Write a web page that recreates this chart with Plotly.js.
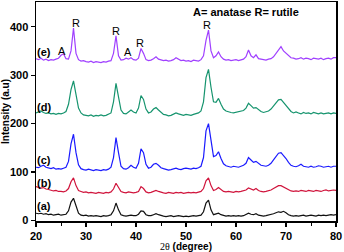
<!DOCTYPE html>
<html>
<head>
<meta charset="utf-8">
<script src="https://cdn.plot.ly/plotly-3.0.1.min.js"></script>
<style>html,body{margin:0;padding:0;background:#fff;}#chart{width:344px;height:252px;}</style>
</head>
<body>
<div id="chart"></div>
<script>
const twoTheta = [20,20.5,21,21.5,22,22.5,23,23.5,24,24.5,25,25.5,26,26.5,27,27.5,28,28.5,29,29.5,30,30.5,31,31.5,32,32.5,33,33.5,34,34.5,35,35.5,36,36.5,37,37.5,38,38.5,39,39.5,40,40.5,41,41.5,42,42.5,43,43.5,44,44.5,45,45.5,46,46.5,47,47.5,48,48.5,49,49.5,50,50.5,51,51.5,52,52.5,53,53.5,54,54.5,55,55.5,56,56.5,57,57.5,58,58.5,59,59.5,60,60.5,61,61.5,62,62.5,63,63.5,64,64.5,65,65.5,66,66.5,67,67.5,68,68.5,69,69.5,70,70.5,71,71.5,72,72.5,73,73.5,74,74.5,75,75.5,76,76.5,77,77.5,78,78.5,79,79.5,80];

const seriesE = [334,332,335,331,333,330,332,331,333,335,341,344,334,333,350,397,345,332,329,330,328,327,329,326,328,327,326,328,327,329,330,345,381,340,331,332,335,333,336,332,331,335,355,345,332,330,331,334,338,333,331,330,331,329,330,332,336,333,330,331,329,330,328,331,330,329,332,340,372,393,350,336,340,348,338,333,331,332,330,331,332,330,331,333,338,352,340,336,342,334,333,332,331,333,334,338,345,352,359,350,345,340,336,335,333,334,336,333,335,334,332,335,334,333,335,332,334,335,333,336,336];

const seriesD = [222,224,226,223,221,222,220,221,219,221,220,222,225,240,270,288,255,232,222,218,217,216,218,215,217,216,218,216,217,219,222,245,283,255,228,221,220,224,228,224,222,232,258,250,230,222,224,230,233,228,223,219,218,216,217,219,222,220,218,217,219,218,217,219,220,222,226,245,295,312,275,245,244,252,240,230,226,224,223,222,223,224,225,227,232,242,237,232,233,228,225,223,224,226,230,236,243,249,250,244,238,230,225,222,224,222,220,223,221,222,220,223,221,220,222,220,221,222,220,222,221];

const seriesC = [110,109,112,114,110,108,107,109,106,107,106,108,110,122,158,178,140,115,107,105,104,106,104,103,105,104,103,105,104,106,110,130,171,140,112,107,106,109,114,110,108,118,148,140,116,108,110,116,118,114,109,107,105,104,105,106,108,106,105,107,108,107,106,108,107,109,112,130,185,200,160,132,134,142,128,117,113,111,110,112,111,110,112,114,118,130,125,120,122,117,114,113,112,114,118,125,133,139,140,135,128,120,114,112,111,113,116,112,111,110,112,110,111,113,112,110,111,112,110,112,112];

const seriesB = [70,69,67,68,65,64,63,61,62,60,60,59,61,66,80,88,72,62,60,58,59,57,58,57,56,58,57,56,58,57,59,65,77,68,60,58,57,59,58,57,58,60,70,66,59,57,58,60,62,60,58,57,56,58,57,56,58,57,58,56,57,58,57,58,57,59,60,66,82,88,72,62,64,68,63,60,59,60,59,58,60,59,60,61,63,67,65,63,66,62,60,59,60,61,63,66,69,72,72,69,66,63,61,60,61,60,62,61,60,62,61,60,62,61,60,62,63,61,62,63,62];

const seriesA = [15,14,15,13,14,12,13,11,12,13,11,12,13,20,38,46,28,15,11,10,11,9,10,9,10,9,8,10,9,10,12,20,36,22,12,10,9,10,11,10,10,13,20,19,12,10,10,12,14,12,10,9,8,9,10,8,9,10,9,8,9,8,9,10,9,10,11,18,36,42,22,12,13,15,12,10,9,10,9,10,9,10,9,10,12,15,13,12,14,11,10,9,10,11,12,14,16,18,17,19,16,12,10,9,10,9,10,11,9,10,11,10,9,11,10,11,10,11,12,11,12];

const seriesNames = ['(a)','(b)','(c)','(d)','(e)'];
const seriesColors = ['#111111','#d0143c','#1a1aff','#16946e','#a040ff'];
const allSeries = [seriesA, seriesB, seriesC, seriesD, seriesE];

const sampleLabels = ['(e)','(d)','(c)','(b)','(a)'];
const sampleLabelX = [21.6,21.6,21.6,21.6,21.6];
const sampleLabelY = [348,234,125,77,30];

const phaseLabels = ['A','R','R','A','R','R'];
const phaseLabelX = [25.2,28.0,36.0,38.3,40.8,54.1];
const phaseLabelY = [350,408,392,347,366,404];

const legendText = 'A= anatase R= rutile';
const legendX = 62;
const legendY = 431;

const traces = allSeries.map((ys, i) => ({
  x: twoTheta, y: ys, type: 'scatter', mode: 'lines', name: seriesNames[i],
  line: {color: seriesColors[i], width: 1.2}, hoverinfo: 'skip'
}));

const annotations = [];
sampleLabels.forEach((t, i) => annotations.push({
  x: sampleLabelX[i], y: sampleLabelY[i], xref: 'x', yref: 'y', text: t, showarrow: false,
  font: {family: 'Arial, Liberation Sans', size: 11, color: '#000', weight: 'bold'}
}));
phaseLabels.forEach((t, i) => annotations.push({
  x: phaseLabelX[i], y: phaseLabelY[i], xref: 'x', yref: 'y', text: t, showarrow: false,
  font: {family: 'Arial, Liberation Sans', size: 11, color: '#000'}
}));
annotations.push({
  x: legendX, y: legendY, xref: 'x', yref: 'y', text: legendText, showarrow: false,
  font: {family: 'Arial, Liberation Sans', size: 11, color: '#000', weight: 'bold'}
});

const axisFont = {family: 'Arial, Liberation Sans', size: 11, color: '#000', weight: 'bold'};

const layout = {
  width: 344, height: 252,
  margin: {l: 36, r: 8, t: 2, b: 31},
  paper_bgcolor: '#fff', plot_bgcolor: '#fff',
  showlegend: false,
  xaxis: {
    range: [20, 80], dtick: 10, tick0: 20,
    showline: true, mirror: true, linecolor: '#000', linewidth: 1.5,
    ticks: 'outside', ticklen: 4, tickwidth: 1.2, tickcolor: '#000',
    minor: {dtick: 5, ticks: 'outside', ticklen: 3, tickwidth: 1, tickcolor: '#000'},
    showgrid: false, zeroline: false,
    tickfont: axisFont,
    title: {text: '<span style="font-family:Liberation Serif;font-weight:normal">2θ</span> (degree)',
      font: {family: 'Arial, Liberation Sans', size: 10, color: '#000', weight: 'bold'}, standoff: 3}
  },
  yaxis: {
    range: [-1, 451], dtick: 100, tick0: 0,
    showline: true, mirror: true, linecolor: '#000', linewidth: 1.5,
    ticks: 'outside', ticklen: 4, tickwidth: 1.2, tickcolor: '#000',
    showgrid: false, zeroline: false,
    tickfont: axisFont,
    title: {text: 'Intensity (a.u)', font: {family: 'Arial, Liberation Sans', size: 10, color: '#000', weight: 'bold'}, standoff: 4}
  },
  annotations: annotations
};

Plotly.newPlot('chart', traces, layout, {displayModeBar: false, staticPlot: true});
</script>
</body>
</html>
